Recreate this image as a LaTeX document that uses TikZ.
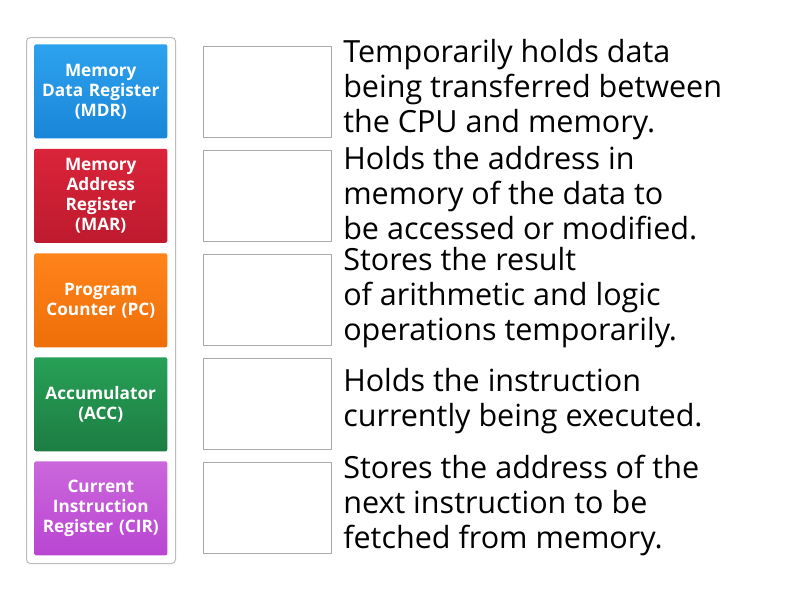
\documentclass[tikz,border=0pt]{standalone}
\usepackage{fontspec}
\setmainfont{Open Sans}
\definecolor{blueT}{HTML}{2DA2EE}
\definecolor{blueB}{HTML}{1A86D8}
\definecolor{redT}{HTML}{DA2439}
\definecolor{redB}{HTML}{BE1A2E}
\definecolor{orT}{HTML}{FF841A}
\definecolor{orB}{HTML}{EE6E08}
\definecolor{grT}{HTML}{27A056}
\definecolor{grB}{HTML}{1D7D43}
\definecolor{puT}{HTML}{CB67DB}
\definecolor{puB}{HTML}{B946D2}
\definecolor{frame}{HTML}{BDBDBD}
\definecolor{boxline}{HTML}{A8A8A8}
\begin{document}
\begin{tikzpicture}[x=0.75pt,y=-0.75pt,
  tile/.style={rounded corners=1.5pt, minimum width=99.75pt, minimum height=70.5pt,
    text width=99pt, align=center, inner sep=0pt, text=white,
    font=\fontsize{12.9}{15}\selectfont\bfseries, anchor=north west},
  blank/.style={draw=boxline, line width=0.75pt, fill=white, minimum width=96pt,
    minimum height=68.25pt, inner sep=0pt, anchor=north west},
  desc/.style={anchor=west, align=left, inner sep=0pt,
    font=\fontsize{22.9}{26.2}\selectfont}]
\useasboundingbox (0,0) rectangle (800,600);
\fill[white] (0,0) rectangle (800,600);
\node[draw=frame, line width=0.75pt, rounded corners=3pt, minimum width=111.75pt,
  minimum height=394.5pt, anchor=north west, inner sep=0pt] (frm) at (26,37) {};
\node[tile, top color=blueT, bottom color=blueB] (t1) at (34,44) {Memory\\Data Register\\(MDR)};
\node[tile, top color=redT, bottom color=redB] (t2) at (34,148.5) {Memory\\Address\\Register\\(MAR)};
\node[tile, top color=orT, bottom color=orB] (t3) at (34,253) {Program\\Counter (PC)};
\node[tile, top color=grT, bottom color=grB] (t4) at (34,357) {Accumulator\\(ACC)};
\node[tile, top color=puT, bottom color=puB] (t5) at (34,461) {Current\\Instruction\\Register (CIR)};
\foreach \i/\y in {1/46,2/150,3/254,4/358,5/462}{
  \node[blank] (b\i) at (203,\y) {};
}
\node[desc] (d1) at ([xshift=8.25pt,yshift=2pt]b1.east) {Temporarily holds data\\being transferred between\\the CPU and memory.};
\node[desc] (d2) at ([xshift=8.25pt,yshift=2pt]b2.east) {Holds the address in\\memory of the data to\\be accessed or modified.};
\node[desc] (d3) at ([xshift=8.25pt,yshift=2pt]b3.east) {Stores the result\\of arithmetic and logic\\operations temporarily.};
\node[desc] (d4) at ([xshift=8.25pt,yshift=2pt]b4.east) {Holds the instruction\\currently being executed.};
\node[desc] (d5) at ([xshift=8.25pt,yshift=2pt]b5.east) {Stores the address of the\\next instruction to be\\fetched from memory.};
\end{tikzpicture}
\end{document}
